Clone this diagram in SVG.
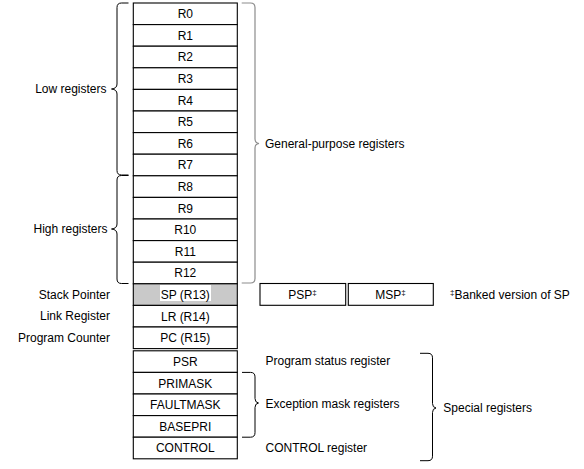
<svg xmlns="http://www.w3.org/2000/svg" width="584" height="469" viewBox="0 0 584 469">
<defs>
<style>
.box{fill:#fff;stroke:#000;stroke-width:1.1}
.sp{fill:#c9c9c9;stroke:#000;stroke-width:1.1}
.t{font-family:"Liberation Sans",Arial,sans-serif;font-size:12px;fill:#000}
.c{text-anchor:middle}
.e{text-anchor:end}
.brace{fill:none;stroke:#000;stroke-width:1}
.gbrace{fill:none;stroke:#8c8c8c;stroke-width:1.2}
.sup{font-size:8px}
</style>
</defs>
<rect width="584" height="469" fill="#fff"/>
<g id="registers">
<g id="R0"><rect class="box" x="133.3" y="3" width="104" height="21.6"/><text class="t c" x="185.3" y="18.2">R0</text></g>
<g id="R1"><rect class="box" x="133.3" y="24.6" width="104" height="21.6"/><text class="t c" x="185.3" y="39.8">R1</text></g>
<g id="R2"><rect class="box" x="133.3" y="46.2" width="104" height="21.6"/><text class="t c" x="185.3" y="61.4">R2</text></g>
<g id="R3"><rect class="box" x="133.3" y="67.8" width="104" height="21.6"/><text class="t c" x="185.3" y="83">R3</text></g>
<g id="R4"><rect class="box" x="133.3" y="89.4" width="104" height="21.6"/><text class="t c" x="185.3" y="104.6">R4</text></g>
<g id="R5"><rect class="box" x="133.3" y="111" width="104" height="21.6"/><text class="t c" x="185.3" y="126.2">R5</text></g>
<g id="R6"><rect class="box" x="133.3" y="132.6" width="104" height="21.6"/><text class="t c" x="185.3" y="147.8">R6</text></g>
<g id="R7"><rect class="box" x="133.3" y="154.2" width="104" height="21.6"/><text class="t c" x="185.3" y="169.4">R7</text></g>
<g id="R8"><rect class="box" x="133.3" y="175.8" width="104" height="21.6"/><text class="t c" x="185.3" y="191">R8</text></g>
<g id="R9"><rect class="box" x="133.3" y="197.4" width="104" height="21.6"/><text class="t c" x="185.3" y="212.6">R9</text></g>
<g id="R10"><rect class="box" x="133.3" y="219" width="104" height="21.6"/><text class="t c" x="185.3" y="234.2">R10</text></g>
<g id="R11"><rect class="box" x="133.3" y="240.6" width="104" height="21.6"/><text class="t c" x="185.3" y="255.8">R11</text></g>
<g id="R12"><rect class="box" x="133.3" y="262.2" width="104" height="21.6"/><text class="t c" x="185.3" y="277.4">R12</text></g>
<g id="SP"><rect class="sp" x="133.3" y="283.8" width="104" height="21.6"/><rect x="160" y="285" width="51" height="16" fill="#fff"/><text class="t c" x="185.3" y="299">SP (R13)</text></g>
<g id="LR"><rect class="box" x="133.3" y="305.4" width="104" height="21.6"/><text class="t c" x="185.3" y="320.6">LR (R14)</text></g>
<g id="PC"><rect class="box" x="133.3" y="327" width="104" height="21.6"/><text class="t c" x="185.3" y="342.2">PC (R15)</text></g>
</g>
<g id="banked">
<g id="PSP"><rect class="box" x="260" y="283.5" width="85.7" height="21.8"/><text class="t c" x="302.5" y="298.7">PSP<tspan class="sup" dy="-4">‡</tspan></text></g>
<g id="MSP"><rect class="box" x="348.3" y="283.5" width="85" height="21.8"/><text class="t c" x="390.5" y="298.7">MSP<tspan class="sup" dy="-4">‡</tspan></text></g>
<text class="t" x="450" y="298.7"><tspan class="sup" dy="-4">‡</tspan><tspan dy="4">Banked version of SP</tspan></text>
</g>
<g id="special">
<g id="PSR"><rect class="box" x="133.3" y="350.8" width="104" height="21.6"/><text class="t c" x="185.3" y="366">PSR</text></g>
<g id="PRIMASK"><rect class="box" x="133.3" y="372.4" width="104" height="21.6"/><text class="t c" x="185.3" y="387.6">PRIMASK</text></g>
<g id="FAULTMASK"><rect class="box" x="133.3" y="394" width="104" height="21.6"/><text class="t c" x="185.3" y="409.2">FAULTMASK</text></g>
<g id="BASEPRI"><rect class="box" x="133.3" y="415.6" width="104" height="21.6"/><text class="t c" x="185.3" y="430.8">BASEPRI</text></g>
<g id="CONTROL"><rect class="box" x="133.3" y="437.2" width="104" height="21.6"/><text class="t c" x="185.3" y="452.4">CONTROL</text></g>
</g>
<g id="labels">
<text class="t e" x="106.5" y="93.4">Low registers</text>
<text class="t e" x="107.5" y="233.4">High registers</text>
<text class="t e" x="110" y="298.7">Stack Pointer</text>
<text class="t e" x="110" y="320.4">Link Register</text>
<text class="t e" x="110" y="341.9">Program Counter</text>
<text class="t" x="265" y="147.9">General-purpose registers</text>
<text class="t" x="265.5" y="365.2">Program status register</text>
<text class="t" x="265.5" y="408.4">Exception mask registers</text>
<text class="t" x="265.5" y="452">CONTROL register</text>
<text class="t" x="443.3" y="411.6">Special registers</text>
</g>
<g id="connectors">
<path class="brace" d="M128.5,3 H121.5 Q117,3 117,7.5 V84 Q117,88.5 111.5,89 Q117,89.5 117,94 V170.5 Q117,175 121.5,175 H128.5"/>
<path class="brace" d="M128.5,175.5 H121.5 Q117,175.5 117,180 V224 Q117,228.5 111.5,229 Q117,229.5 117,234 V279 Q117,283.5 121.5,283.5 H128.5"/>
<path class="gbrace" d="M241.7,3 H250.5 Q255,3 255,7.5 V139 Q255,143 259,143.5 Q255,144 255,148 V278.5 Q255,283 250.5,283 H241.7"/>
<path class="brace" d="M242,372.4 H250.5 Q255,372.4 255,376.9 V398.5 Q255,402.5 258.5,403 Q255,403.5 255,407.5 V432.7 Q255,437.2 250.5,437.2 H242"/>
<path class="brace" d="M420,353.3 H428 Q432.5,353.3 432.5,357.8 V403.5 Q432.5,407.5 436,408 Q432.5,408.5 432.5,412.5 V456.2 Q432.5,460.7 428,460.7 H420"/>
</g>
</svg>
